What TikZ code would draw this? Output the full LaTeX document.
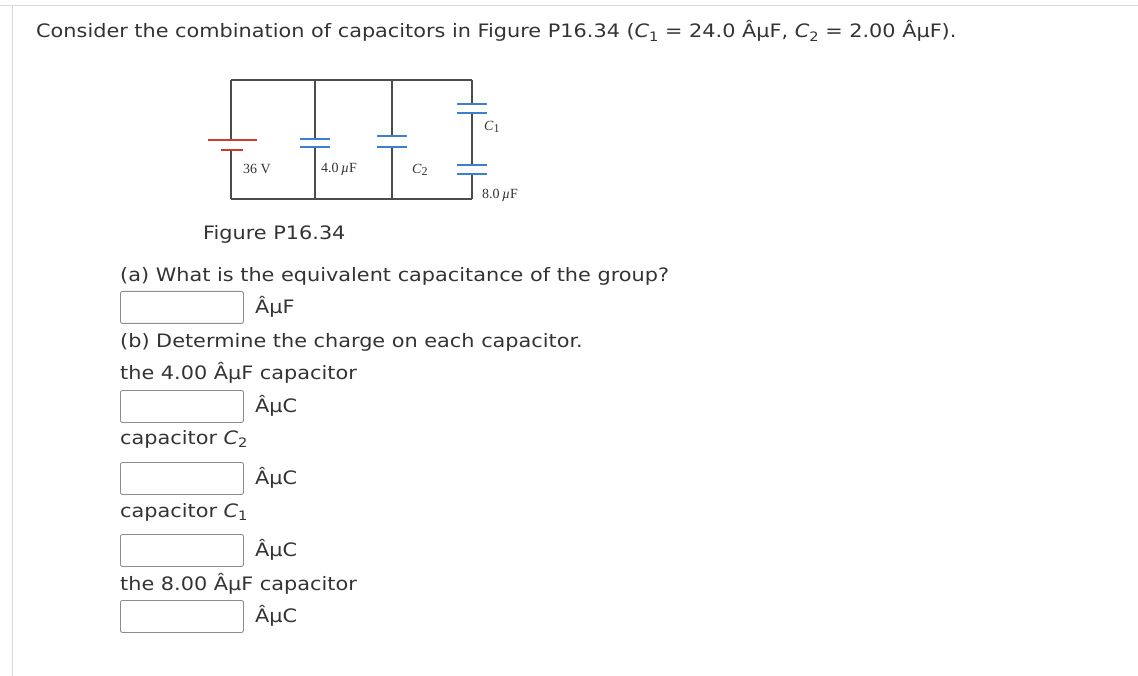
\documentclass[tikz,border=0pt]{standalone}
\usepackage{fontspec}
\setmainfont[FakeStretch=1.125]{DejaVu Sans}
\newfontfamily\serf{Liberation Serif}
\definecolor{txt}{HTML}{333333}
\definecolor{capb}{HTML}{3A7FD0}
\definecolor{batr}{HTML}{D03A2A}
\newcommand{\sbs}[1]{\raisebox{-0.35ex}{\fontsize{13}{13}\selectfont #1}}
\newcommand{\Cs}[1]{\textit{C}\sbs{#1}}
\begin{document}
\begin{tikzpicture}[x=1pt,y=-1pt,
  t/.style={anchor=west,inner sep=0pt,text=txt,font=\fontsize{18.5}{20}\selectfont},
  ansbox/.style={draw=black!45,line width=0.9pt,rounded corners=2pt,minimum width=123pt,minimum height=32pt,inner sep=0pt,anchor=north west},
  wire/.style={draw=black!70,line width=1.4pt},
  cplate/.style={draw=capb,line width=2.2pt},
  bplate/.style={draw=batr,line width=2.4pt},
  lab/.style={inner sep=0pt,font=\serf\fontsize{14}{14}\selectfont,text=black!80}]
\useasboundingbox (0,0) rectangle (1138,676);
\draw[gray!30] (0,5) -- (1138,5);
\draw[gray!30] (12,5) -- (12,676);
\node[t] (title) at (36,31) {Consider the combination of capacitors in Figure P16.34 (\Cs{1} = 24.0 ÂµF, \Cs{2} = 2.00 ÂµF).};
% circuit
\coordinate (tl) at (231,80); \coordinate (bl) at (231,199);
\coordinate (ta) at (315,80); \coordinate (ba) at (315,199);
\coordinate (tb) at (392,80); \coordinate (bb) at (392,199);
\coordinate (tr) at (472,80); \coordinate (br) at (472,199);
\draw[wire] (tl) -- (tr); \draw[wire] (bl) -- (br);
\draw[wire] (tl) -- (231,140) (231,150) -- (bl);
\draw[wire] (ta) -- (315,139) (315,147) -- (ba);
\draw[wire] (tb) -- (392,136) (392,147) -- (bb);
\draw[wire] (tr) -- (472,104) (472,113) -- (472,165) (472,174) -- (br);
\draw[bplate] (208,140) -- (257,140);
\draw[bplate] (221,150) -- (243,150);
\draw[cplate] (300,139) -- (330,139) (300,147) -- (330,147);
\draw[cplate] (377,136) -- (407,136) (377,147) -- (407,147);
\draw[cplate] (457,104) -- (487,104) (457,113) -- (487,113);
\draw[cplate] (457,165) -- (487,165) (457,174) -- (487,174);
\node[lab,anchor=west] (v) at (243,169) {36 V};
\node[lab,anchor=west] (c4) at (321,169) {4.0\,\textit{µ}F};
\node[lab,anchor=west] (c2) at (412,170) {\textit{C}\raisebox{-0.3ex}{\fontsize{12}{12}\selectfont 2}};
\node[lab,anchor=west] (c1) at (484,127) {\textit{C}\raisebox{-0.3ex}{\fontsize{12}{12}\selectfont 1}};
\node[lab,anchor=west] (c8) at (482,195) {8.0\,\textit{µ}F};
\node[t] (fig) at (203,234) {Figure P16.34};
\node[t] (qa) at (120,276) {(a) What is the equivalent capacitance of the group?};
\node[ansbox] (b1) at (120,291) {}; \node[t] (u1) at (255,307) {ÂµF};
\node[t] (qb) at (120,342) {(b) Determine the charge on each capacitor.};
\node[t] (q4) at (120,373) {the 4.00 ÂµF capacitor};
\node[ansbox] (b2) at (120,390) {}; \node[t] (u2) at (255,406) {ÂµC};
\node[t] (qc2) at (120,439) {capacitor \Cs{2}};
\node[ansbox] (b3) at (120,462) {}; \node[t] (u3) at (255,478) {ÂµC};
\node[t] (qc1) at (120,512) {capacitor \Cs{1}};
\node[ansbox] (b4) at (120,534) {}; \node[t] (u4) at (255,550) {ÂµC};
\node[t] (q8) at (120,584) {the 8.00 ÂµF capacitor};
\node[ansbox] (b5) at (120,600) {}; \node[t] (u5) at (255,616) {ÂµC};
\end{tikzpicture}
\end{document}
